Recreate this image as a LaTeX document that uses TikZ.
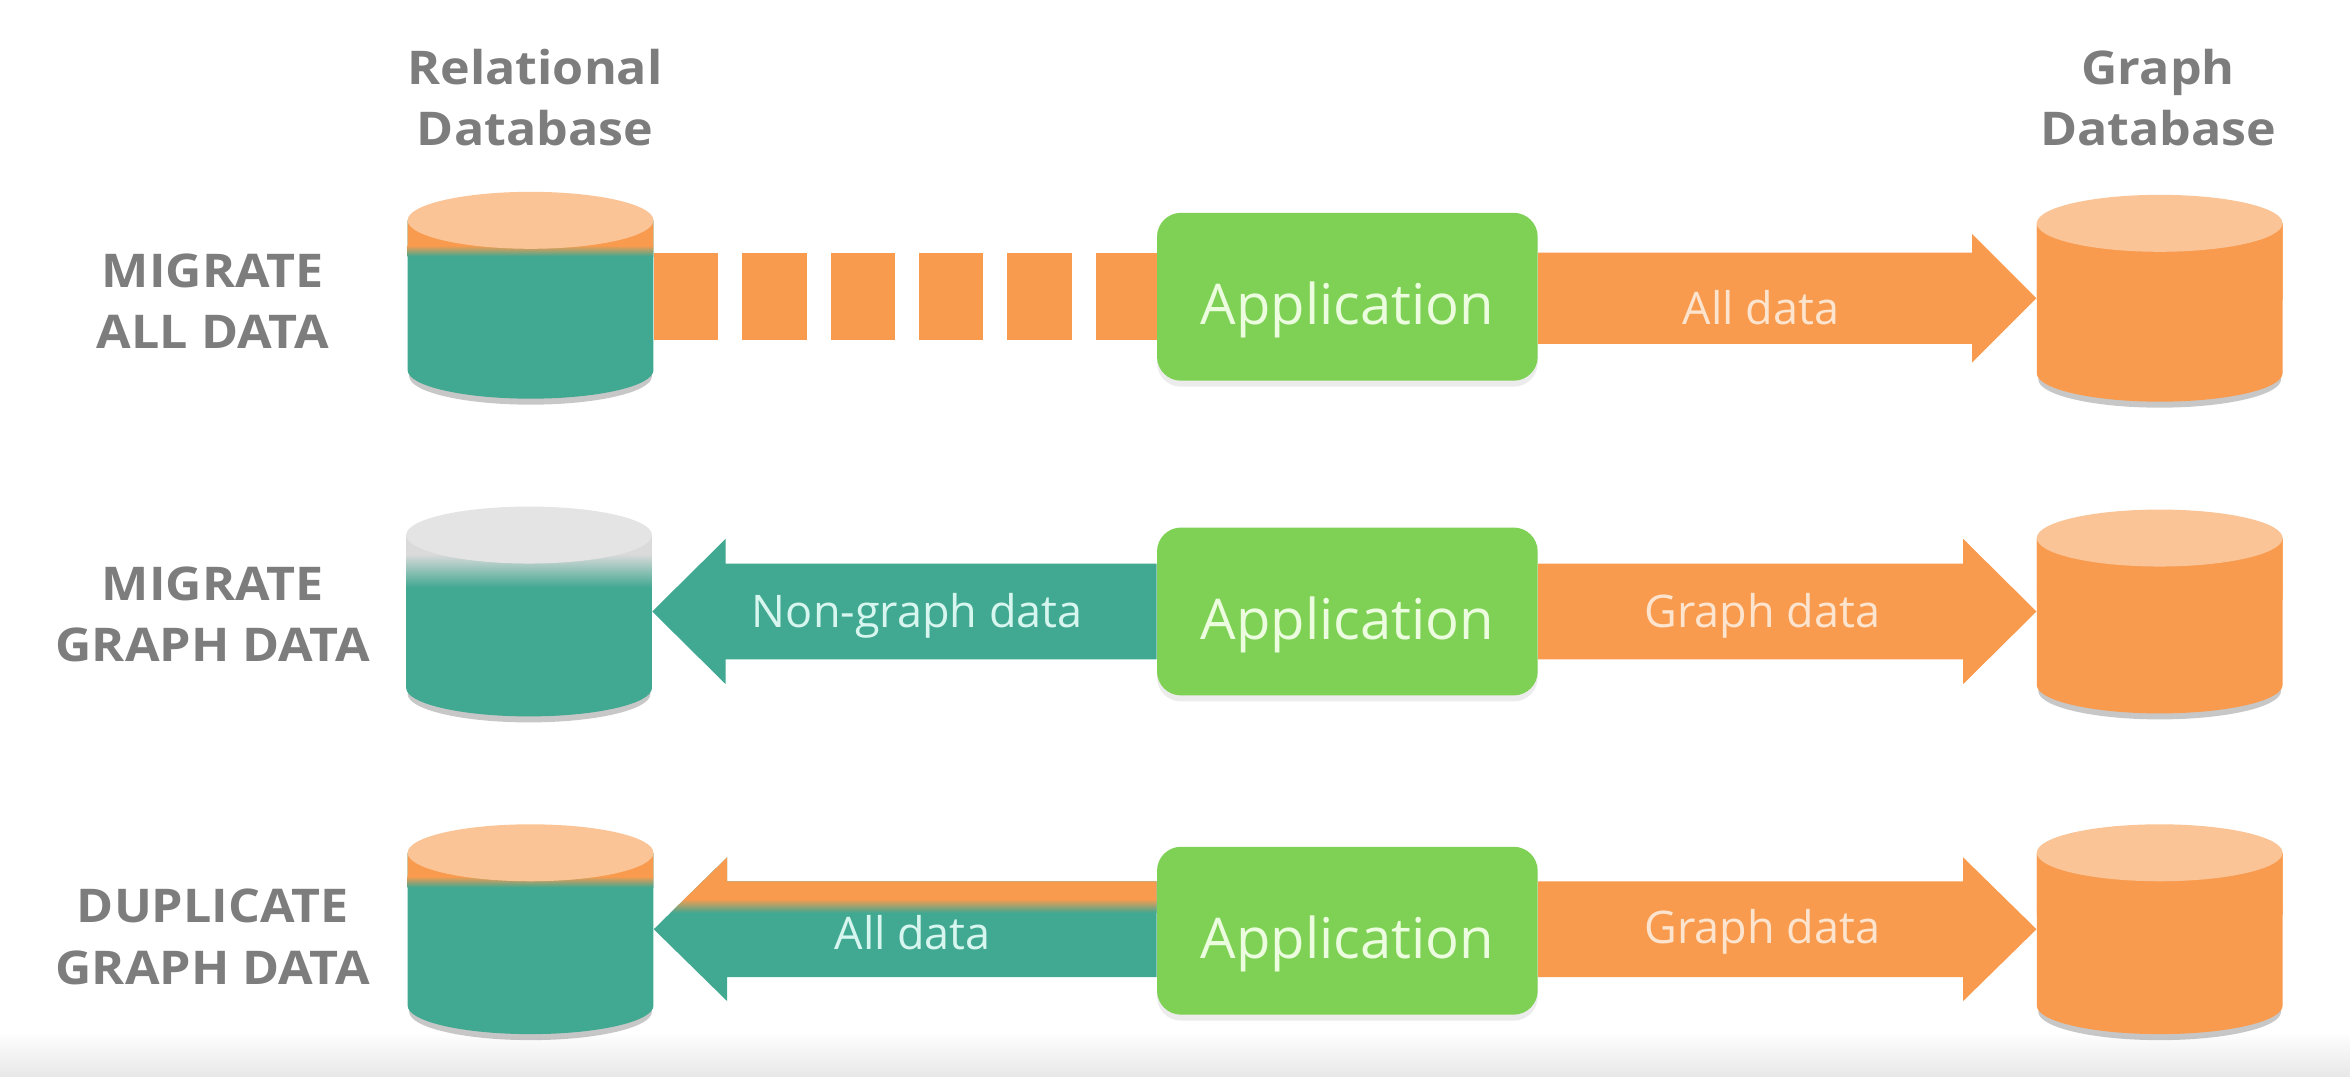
\documentclass[tikz,border=0pt]{standalone}
\usepackage{fontspec}
\setmainfont{Open Sans}
\newfontfamily\labfont[FakeStretch=1.08]{Open Sans}
\usetikzlibrary{calc,shadows}
\definecolor{dbteal}{HTML}{41A891}
\definecolor{dborange}{HTML}{F89B4F}
\definecolor{dblid}{HTML}{FAC496}
\definecolor{lidgray}{HTML}{E4E4E4}
\definecolor{bandgray}{HTML}{DADADA}
\definecolor{appgreen}{HTML}{7ED154}
\definecolor{labgray}{HTML}{7D7D7D}
\definecolor{apptext}{HTML}{ECFDDF}
\definecolor{otext}{HTML}{FDE4CE}
\definecolor{ttext}{HTML}{D7F6EF}
\tikzset{
 app/.style={fill=appgreen, rounded corners=16pt, minimum width=254pt, minimum height=112pt,
   inner sep=0pt, text=apptext, font=\fontsize{37.5}{44}\selectfont, text height=37pt, text depth=0pt,
   drop shadow={opacity=0.15, shadow xshift=0pt, shadow yshift=-4pt}},
 lab/.style={text=labgray, font=\labfont\bfseries\fontsize{31}{41}\selectfont, align=center},
 otxt/.style={text=otext, font=\fontsize{30}{36}\selectfont, inner sep=0pt},
 ttxt/.style={text=ttext, font=\fontsize{30}{36}\selectfont, inner sep=0pt},
}
% #1 name, #2 cx, #3 top centre y, #4 bottom centre y, #5 lid colour, #6 band colour, #7 body colour, #8 band end y, #9 fade length
\newcommand\dbcyl[9]{%
 \fill[black, opacity=0.22] (#2,#4+4) ellipse[x radius=81pt, y radius=19pt];
 \fill[#7] (#2-82,#3) -- (#2-82,#4) arc[start angle=180,end angle=360,x radius=82pt,y radius=19pt] -- (#2+82,#3) -- cycle;
 \begin{scope}
  \clip (#2-82,#3) -- (#2-82,#4) arc[start angle=180,end angle=360,x radius=82pt,y radius=19pt] -- (#2+82,#3) -- cycle;
  \fill[#6] (#2-83,#3) rectangle (#2+83,#8-#9);
  \shade[top color=#6, bottom color=#7] (#2-83,#8-#9-0.2) rectangle (#2+83,#8);
 \end{scope}
 \fill[#5] (#2,#3) ellipse[x radius=82pt, y radius=19pt];
 \node[minimum width=164pt, minimum height={#4-#3+38}, inner sep=0pt] (#1) at (#2,{(#3+#4)/2}) {};
}
% #1 path options, #2 from, #3 to (tip), #4 half body, #5 half head, #6 head length
\newcommand\blockarrow[6]{%
 \path[#1] let \p1=(#2), \p2=(#3), \n2={\x2-ifthenelse(\x2>\x1,1,-1)*#6} in
  (\x1,\y2+#4) -- (\n2,\y2+#4) -- (\n2,\y2+#5) -- (\x2,\y2) -- (\n2,\y2-#5) -- (\n2,\y2-#4) -- (\x1,\y2-#4) -- cycle;
}
\begin{document}
\begin{tikzpicture}[x=1pt,y=-1pt]
\useasboundingbox (0,0) rectangle (1568,718);
\fill[white] (0,0) rectangle (1568,718);
\shade[top color=white, bottom color=black!9] (0,688) rectangle (1568,718);

% column titles
\node[lab] (reltitle) at (357,65) {Relational\\Database};
\node[lab] (graphtitle) at (1440,65) {Graph\\Database};

% row titles
\node[lab] (row1) at (142,201) {MIGRATE\\ALL DATA};
\node[lab] (row2) at (142,410) {MIGRATE\\GRAPH DATA};
\node[lab] (row3) at (142,625) {DUPLICATE\\GRAPH DATA};

% databases
\dbcyl{l1}{354}{147}{247}{dblid}{dborange}{dbteal}{171}{7}
\dbcyl{l2}{353}{357}{459}{lidgray}{bandgray}{dbteal}{392}{22}
\dbcyl{l3}{354}{569}{671}{dblid}{dborange}{dbteal}{592}{7}
\dbcyl{r1}{1441}{149}{249}{dblid}{dborange}{dborange}{200}{5}
\dbcyl{r2}{1441}{359}{457}{dblid}{dborange}{dborange}{400}{5}
\dbcyl{r3}{1441}{569}{671}{dblid}{dborange}{dborange}{610}{5}

% applications
\node[app] (a1) at (899,198) {Application};
\node[app] (a2) at (899,408) {Application};
\node[app] (a3) at (899,621) {Application};

% row 1
\draw[dborange, line width=58pt, dash pattern=on 43pt off 16pt] (a1.west -| l1.east) -- (a1.west);
\blockarrow{fill=dborange}{a1.east}{r1.west}{30.5pt}{43pt}{43pt}
\node[otxt] (t1) at (1175,205) {All data};

% row 2
\blockarrow{fill=dbteal}{a2.west}{l2.east}{32pt}{48.5pt}{49pt}
\blockarrow{fill=dborange}{a2.east}{r2.west}{32pt}{48.5pt}{49pt}
\node[ttxt] (t2) at (612,411) {Non-graph data};
\node[otxt] (t3) at (1176,411) {Graph data};

% row 3
\blockarrow{fill=dbteal}{a3.west}{l3.east}{32pt}{48pt}{49pt}
\begin{scope}
 \blockarrow{clip}{a3.west}{l3.east}{32pt}{48pt}{49pt}
 \fill[dborange] (420,560) rectangle (780,600);
 \shade[top color=dborange, bottom color=dbteal] (420,599.8) rectangle (780,609);
\end{scope}
\blockarrow{fill=dborange}{a3.east}{r3.west}{32pt}{48pt}{49pt}
\node[ttxt] (t4) at (609,622) {All data};
\node[otxt] (t5) at (1176,622) {Graph data};
\end{tikzpicture}
\end{document}
